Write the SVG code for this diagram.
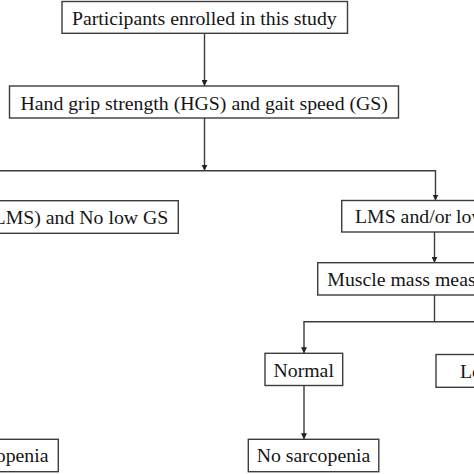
<svg xmlns="http://www.w3.org/2000/svg" width="474" height="474" viewBox="0 0 474 474">
<defs>
<style>
rect{fill:#fff;stroke:#3c3c3c;stroke-width:1.4}
text{font-family:"Liberation Serif","Times New Roman",serif;font-size:19.8px;fill:#151515}
.c{fill:none;stroke:#3c3c3c;stroke-width:1.4}
</style>
<marker id="ah" viewBox="0 0 10 10" refX="10" refY="5" markerWidth="6" markerHeight="6" markerUnits="userSpaceOnUse" orient="auto">
<path d="M0,0 L10,5 L0,10 z" fill="#222"/>
</marker>
</defs>
<rect x="0" y="0" width="474" height="474" style="fill:#fff;stroke:none"/>
<g id="connectors">
<path class="c" d="M204.5,33.5 V86" marker-end="url(#ah)"/>
<path class="c" d="M204.5,118 V170.7" marker-end="url(#ah)"/>
<path class="c" d="M-5,170.7 H435.5 V200.5" marker-end="url(#ah)"/>
<path class="c" d="M434.5,232 V262.7" marker-end="url(#ah)"/>
<path class="c" d="M434.5,295 V321.7"/>
<path class="c" d="M480,321.7 H304 V353.3" marker-end="url(#ah)"/>
<path class="c" d="M304,385.5 V439.3" marker-end="url(#ah)"/>
</g>
<g id="n-participants">
<rect x="62" y="1.5" width="285.5" height="31.8"/>
<text x="204.3" y="25" text-anchor="middle">Participants enrolled in this study</text>
</g>
<g id="n-hgs-gs">
<rect x="9.5" y="86" width="389" height="32"/>
<text x="204.2" y="110" text-anchor="middle">Hand grip strength (HGS) and gait speed (GS)</text>
</g>
<g id="n-no-lms">
<rect x="-10" y="200.7" width="188.3" height="32.6"/>
<text x="168.3" y="223.5" text-anchor="end">(LMS) and No low GS</text>
</g>
<g id="n-lms">
<rect x="341.7" y="200.5" width="150" height="31.5"/>
<text x="355" y="223.3">LMS and/or  low GS</text>
</g>
<g id="n-muscle">
<rect x="317.7" y="262.7" width="180" height="32.3"/>
<text x="327.3" y="285.5">Muscle mass measurement</text>
</g>
<g id="n-normal">
<rect x="265" y="353.3" width="77.7" height="32.2"/>
<text x="303.7" y="376.7" text-anchor="middle">Normal</text>
</g>
<g id="n-low">
<rect x="436" y="354.5" width="60" height="32.8"/>
<text x="460" y="378">Low</text>
</g>
<g id="n-nosarc-left">
<rect x="-10" y="439.3" width="68.3" height="32.4"/>
<text x="48.5" y="462" text-anchor="end">No sarcopenia</text>
</g>
<g id="n-nosarc">
<rect x="248.3" y="439.3" width="130.5" height="32.4"/>
<text x="313.5" y="462" text-anchor="middle">No sarcopenia</text>
</g>
</svg>
